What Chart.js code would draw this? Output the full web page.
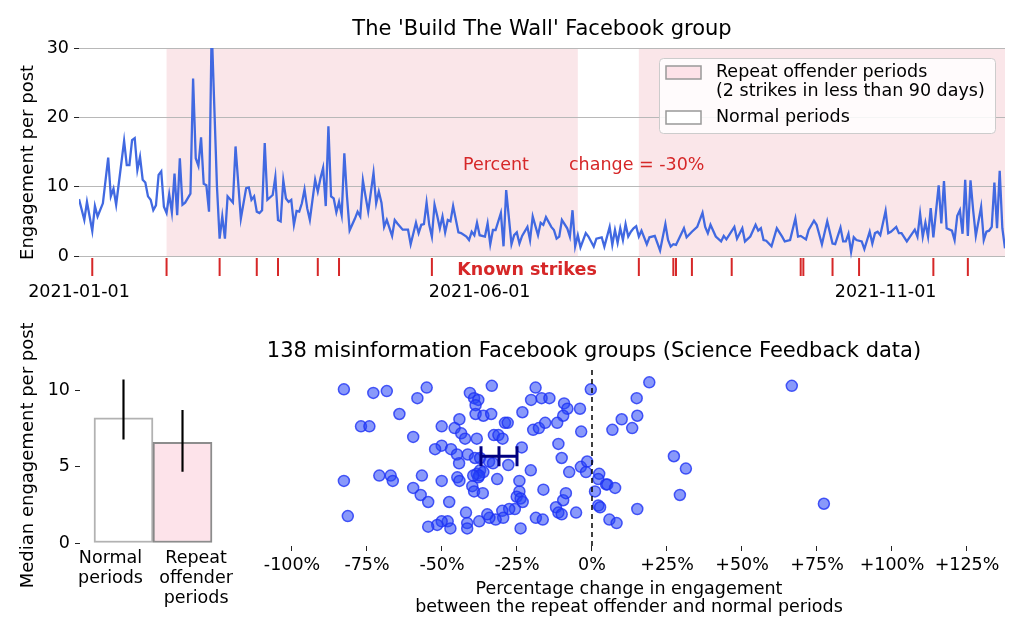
<!DOCTYPE html>
<html>
<head>
<meta charset="utf-8">
<script src="https://cdn.jsdelivr.net/npm/chart.js@4.4.0/dist/chart.umd.min.js"></script>
<style>
  body { margin: 0; background: #fff; }
  #wrap { position: relative; width: 1024px; height: 640px; overflow: hidden; }
  canvas { position: absolute; }
</style>
</head>
<body>
<div id="wrap">
  <canvas id="top" width="1024" height="310" style="left:0;top:0"></canvas>
  <canvas id="bars" width="245" height="330" style="left:0;top:310px"></canvas>
  <canvas id="dots" width="779" height="330" style="left:245px;top:310px"></canvas>
</div>
<script>
// ---- top panel: daily engagement, days counted from 2021-01-01 ----
const days = [
  0,2,3,5,6,7,9,11,12,13,
  14,17,18,19,20,21,22,23,24,25,
  26,27,28,29,30,31,32,33,34,35,
  36,37,38,39,40,42,43,44,45,46,
  47,48,49,50,52,53,54,55,56,58,
  59,61,63,64,65,66,67,68,69,70,
  71,73,74,75,76,77,78,79,80,81,
  82,83,84,85,86,87,89,90,91,92,
  93,94,95,96,97,98,99,100,101,102,
  104,105,106,107,108,109,111,112,113,114,
  115,116,118,119,120,122,124,125,127,128,
  129,130,131,132,133,134,135,136,137,138,
  139,140,141,143,144,146,147,148,149,150,
  151,153,154,155,156,157,159,160,161,163,
  164,165,166,167,169,170,171,173,174,175,
  176,178,179,180,181,182,184,185,186,187,
  188,189,191,192,194,195,197,198,200,201,
  202,203,204,205,206,207,208,209,210,211,
  212,214,215,217,219,221,222,223,224,225,
  228,229,231,233,235,236,237,238,240,242,
  243,244,247,248,250,251,253,255,256,257,
  258,259,261,263,265,266,268,270,271,272,
  274,275,277,278,280,282,284,285,287,288,
  289,290,291,292,293,295,296,298,299,300,
  301,302,304,305,306,308,309,310,312,315,
  316,317,318,319,320,321,322,324,325,326,
  327,329,330,331,332,333,334,335,336,337,
  338,340,341,342,343,344,345,346,347,348,
  349
];
const engagement = [
  8.2,5.2,7.8,3.6,7.2,5.7,7.6,14.2,8.6,9.7,
  7.4,16.6,13.1,13.1,16.7,17.0,12.4,14.3,11.0,10.6,
  8.6,8.1,6.6,7.3,11.7,12.2,7.1,6.2,8.9,6.3,
  11.9,5.9,14.1,7.4,7.7,9.0,25.6,14.1,13.0,17.1,
  10.4,10.2,6.4,33,10.0,2.5,5.7,2.5,8.6,7.7,
  15.8,5.4,9.8,9.9,8.1,8.6,6.4,6.2,6.6,16.3,
  8.1,8.8,11.4,5.2,5.0,10.9,8.3,7.8,8.1,4.5,
  6.5,6.4,7.6,9.6,6.9,5.2,11.0,9.3,11.2,12.7,
  7.2,18.7,8.6,8.3,6.3,7.8,5.9,14.8,8.6,3.7,
  5.4,6.4,5.7,10.9,8.6,6.4,12.0,7.6,9.3,7.7,
  4.2,5.2,2.9,5.2,4.7,3.8,3.8,1.7,4.8,3.3,
  4.5,4.6,7.7,4.5,2.8,7.4,5.8,4.0,5.7,3.4,
  5.2,5.0,7.2,3.4,3.3,2.8,2.3,3.5,3.0,4.8,
  3.0,2.8,4.7,1.7,3.75,3.75,6.2,1.4,9.5,1.7,
  3.0,3.4,1.8,2.9,4.2,2.3,5.7,3.0,4.8,4.5,
  5.6,4.2,3.75,2.5,2.8,5.2,4.0,2.8,6.6,1.4,
  3.0,1.25,3.3,2.8,1.35,2.5,2.7,1.35,4.2,1.6,
  3.75,1.9,4.0,2.3,4.6,2.8,3.5,4.0,4.3,2.8,
  3.65,1.7,2.7,2.9,0.8,4.6,2.3,1.35,1.7,1.6,
  4.0,2.7,3.5,4.2,6.25,4.2,3.3,4.5,2.8,2.1,
  2.9,2.4,4.2,2.5,4.0,2.1,2.8,4.5,3.65,4.0,
  2.3,2.2,1.4,4.0,2.8,2.1,2.3,5.4,2.8,2.9,
  2.4,3.75,5.1,4.5,1.7,5.0,1.8,1.7,4.1,2.1,
  2.1,3.2,0.6,2.7,2.3,2.1,1.0,3.5,1.8,3.3,
  3.5,3.0,6.5,3.3,3.5,4.2,3.3,3.3,2.1,3.8,
  2.8,6.1,2.8,4.8,2.8,6.9,2.7,10.2,4.7,10.8,
  4.0,3.65,2.3,5.8,6.6,3.2,11.0,2.9,10.9,6.6,
  2.9,7.1,2.3,3.5,3.65,4.2,10.6,4.0,12.3,4.0,
  1.1
];
const strikeDays = [5,33,53,67,75,90,98,133,211,224,225,231,246,272,273,284,294,322,335];
const repeatStarts = [33, 211];
const repeatEnds = [188, 349];
const dateTickDays = [0, 151, 304];
const dateTickLabels = ['2021-01-01', '2021-06-01', '2021-11-01'];
const engagementTicks = [0, 10, 20, 30];

// ---- bottom left: medians with error bars ----
const periodPos = [0, 1];
const periodLabels = [['Normal', 'periods'], ['Repeat', 'offender', 'periods']];
const medians = [8.2, 6.6];
const medianLow = [6.8, 4.7];
const medianHigh = [10.7, 8.7];
const medianTicks = [0, 5, 10];

// ---- bottom right: 138 groups ----
const pctChange = [
  -82.7,-72.9,-68.4,-55.1,-58.2,-64.2,-77.0,-74.2,-59.6,-50.1,
  -44.2,-45.8,-43.6,-42.3,-38.4,-40.7,-39.3,-37.9,-38.8,-38.8,
  -36.2,-33.6,-33.4,-50.1,-52.3,-47.0,-45.0,-41.4,-44.3,-39.0,
  -37.3,-34.3,-32.7,-31.2,-29.8,-29.0,-28.1,-23.4,-23.2,-27.9,
  -18.8,-20.3,-16.8,-14.2,-9.3,-8.2,-9.6,-4.0,-0.4,-19.6,
  -17.7,-15.6,-11.6,-3.6,-11.2,-10.1,-20.4,-24.2,-31.6,-38.4,
  -37.3,-36.2,-37.9,-44.9,-44.2,-50.1,-56.7,-67.1,-66.4,-70.9,
  -82.7,-81.4,-59.6,-57.1,-54.6,-47.6,-39.9,-39.3,-36.4,-16.2,
  -7.6,-3.7,-1.6,-2.0,2.4,2.1,4.7,5.1,7.7,1.0,
  2.1,2.7,5.8,8.2,15.1,14.9,15.1,9.9,13.4,6.8,
  19.1,-24.2,-25.1,-23.8,-23.1,-25.7,-27.6,-29.9,-29.6,-32.1,
  -34.2,-34.9,-37.6,-42.0,-41.6,-41.6,-48.1,-47.2,-50.1,-51.6,
  -54.6,-23.8,-18.7,-16.4,-12.0,-11.2,-10.1,-5.3,-9.6,-8.7,
  27.3,31.3,29.3,66.6,77.3,-37.6,-39.6,-33.0
];
const jitter = [
  0.89,0.87,0.88,0.90,0.84,0.75,0.68,0.68,0.62,0.68,
  0.72,0.67,0.64,0.61,0.61,0.87,0.84,0.83,0.80,0.75,
  0.74,0.75,0.91,0.57,0.55,0.55,0.52,0.52,0.47,0.50,
  0.50,0.48,0.63,0.63,0.61,0.70,0.70,0.56,0.76,0.46,
  0.90,0.83,0.84,0.84,0.81,0.78,0.74,0.78,0.89,0.66,
  0.67,0.70,0.70,0.65,0.58,0.50,0.43,0.37,0.38,0.41,
  0.43,0.42,0.39,0.39,0.37,0.37,0.40,0.40,0.37,0.40,
  0.37,0.17,0.33,0.29,0.25,0.25,0.34,0.31,0.30,0.32,
  0.42,0.45,0.48,0.42,0.41,0.38,0.35,0.35,0.33,0.31,
  0.23,0.22,0.15,0.13,0.21,0.84,0.74,0.72,0.67,0.66,
  0.93,0.31,0.28,0.27,0.25,0.21,0.21,0.20,0.16,0.15,
  0.16,0.18,0.14,0.19,0.13,0.10,0.14,0.10,0.14,0.12,
  0.11,0.10,0.16,0.15,0.22,0.19,0.18,0.19,0.26,0.30,
  0.51,0.44,0.29,0.91,0.24,0.40,0.40,0.47
];
const meanChange = -31;
const ciLow = -37;
const ciHigh = -25;
const meanRow = 0.51;
const pctTicks = [-100, -75, -50, -25, 0, 25, 50, 75, 100, 125];
const pctTickLabels = ['-100%', '-75%', '-50%', '-25%', '0%', '+25%', '+50%', '+75%', '+100%', '+125%'];

const FONT = "'DejaVu Sans', sans-serif";
Chart.defaults.font.family = FONT;
Chart.defaults.font.size = 17.5;
Chart.defaults.color = '#000';
Chart.defaults.animation = false;
Chart.defaults.responsive = false;
Chart.defaults.plugins.legend.display = false;
Chart.defaults.plugins.tooltip.enabled = false;

const PINK = 'rgba(240,180,188,0.33)';
const RED = '#d62728';

function setTicks(values) {
  return scale => { scale.ticks = values.map(v => ({ value: v })); };
}

// shaded repeat offender periods, under everything
const shading = {
  id: 'shading',
  beforeDraw(chart) {
    const { ctx } = chart;
    const xs = chart.scales.x, ys = chart.scales.y;
    ctx.save();
    ctx.fillStyle = PINK;
    repeatStarts.forEach((s, i) => {
      const x1 = xs.getPixelForValue(s), x2 = xs.getPixelForValue(repeatEnds[i]);
      const y1 = ys.getPixelForValue(30), y2 = ys.getPixelForValue(0);
      ctx.fillRect(x1, y1, x2 - x1, y2 - y1);
    });
    ctx.restore();
  }
};

const topNotes = {
  id: 'topNotes',
  afterDraw(chart) {
    const { ctx, chartArea } = chart;
    ctx.save();
    ctx.textBaseline = 'middle';
    ctx.fillStyle = '#000';
    ctx.textAlign = 'center';
    ctx.font = '21px ' + FONT;
    ctx.fillText("The 'Build The Wall' Facebook group", (chartArea.left + chartArea.right) / 2, 30);

    ctx.fillStyle = RED;
    ctx.font = '17.5px ' + FONT;
    ctx.textAlign = 'left';
    ctx.fillText('Percent', 463, 165);
    ctx.fillText('change = -30%', 569, 165);
    ctx.font = 'bold 17.5px ' + FONT;
    ctx.textAlign = 'center';
    ctx.fillText('Known strikes', 527, 270);

    // legend
    ctx.fillStyle = 'rgba(255,255,255,0.85)';
    ctx.strokeStyle = '#cccccc';
    ctx.lineWidth = 1;
    ctx.beginPath();
    ctx.roundRect(659.5, 58.5, 336, 75, 4);
    ctx.fill();
    ctx.stroke();
    ctx.lineWidth = 1.5;
    ctx.strokeStyle = '#999999';
    ctx.fillStyle = '#fde2e8';
    ctx.fillRect(666, 66, 35, 13);
    ctx.strokeRect(666, 66, 35, 13);
    ctx.fillStyle = '#ffffff';
    ctx.fillRect(666, 111, 35, 13);
    ctx.strokeRect(666, 111, 35, 13);
    ctx.fillStyle = '#000';
    ctx.font = '17.5px ' + FONT;
    ctx.textAlign = 'left';
    ctx.fillText('Repeat offender periods', 716, 72);
    ctx.fillText('(2 strikes in less than 90 days)', 716, 91);
    ctx.fillText('Normal periods', 716, 117);
    ctx.restore();
  }
};

new Chart(document.getElementById('top'), {
  type: 'line',
  data: {
    datasets: [
      {
        data: days.map((d, i) => ({ x: d, y: engagement[i] })),
        borderColor: '#4169e1',
        borderWidth: 2.3,
        pointRadius: 0,
        tension: 0,
        order: 1
      },
      {
        type: 'scatter',
        data: strikeDays.map(d => ({ x: d, y: -1.6 })),
        pointStyle: 'line',
        pointRotation: 90,
        pointRadius: 9,
        pointBorderColor: RED,
        pointBorderWidth: 2,
        order: 0
      }
    ]
  },
  options: {
    devicePixelRatio: 1,
    layout: { padding: { left: 0, right: 19, top: 48, bottom: 0 } },
    scales: {
      x: {
        type: 'linear', min: 0, max: 349,
        afterBuildTicks: setTicks(dateTickDays),
        afterFit: s => { s.height = 33.2; },
        ticks: { callback: (v, i) => dateTickLabels[i], padding: 5, maxRotation: 0, autoSkip: false },
        grid: { display: false, drawTicks: false },
        border: { display: false }
      },
      y: {
        min: -3, max: 30,
        afterBuildTicks: setTicks(engagementTicks),
        afterFit: s => { s.width = 79; },
        ticks: { padding: 5 },
        grid: { color: '#b8b8b8', tickColor: '#222', tickLength: 5, lineWidth: 1 },
        border: { display: false },
        title: { display: true, text: 'Engagement per post', padding: { top: 18 }, font: { size: 18 } }
      }
    }
  },
  plugins: [shading, topNotes]
});

// the two category labels sit a little outward from the bar centres
const labelShift = [-0.22, 0.23];

new Chart(document.getElementById('bars'), {
  type: 'bar',
  data: {
    datasets: [
      {
        data: periodPos.map((p, i) => ({ x: p, y: [medianLow[i], medianHigh[i]] })),
        backgroundColor: '#000',
        barThickness: 1.5,
        grouped: false,
        order: 0
      },
      {
        data: periodPos.map((p, i) => ({ x: p, y: medians[i] })),
        backgroundColor: ['#ffffff', '#fde3ea'],
        borderColor: ['rgba(0,0,0,0.3)', 'rgba(0,0,0,0.45)'],
        borderWidth: 2,
        borderSkipped: false,
        barThickness: 59,
        grouped: false,
        order: 1
      }
    ]
  },
  options: {
    devicePixelRatio: 1,
    layout: { padding: { left: 0, right: 19, top: 57.6, bottom: 0 } },
    scales: {
      x: {
        type: 'linear', min: -0.737, max: 1.737, offset: false,
        afterBuildTicks: s => { s.ticks = periodPos.map((p, i) => ({ value: p + labelShift[i] })); },
        afterFit: s => { s.height = 97; },
        grid: { display: false, drawTicks: false },
        border: { display: false },
        ticks: { callback: (v, i) => periodLabels[i], padding: 6, maxRotation: 0, autoSkip: false, font: { lineHeight: 1.12 } }
      },
      y: {
        min: 0, max: 11.5,
        afterBuildTicks: setTicks(medianTicks),
        afterFit: s => { s.width = 80; },
        ticks: { padding: 5 },
        grid: { drawOnChartArea: false, tickColor: '#222', tickLength: 5 },
        border: { display: false },
        title: { display: true, text: 'Median engagement per post', padding: { top: 18 }, font: { size: 18 } }
      }
    }
  }
});

const dotNotes = {
  id: 'dotNotes',
  afterDraw(chart) {
    const { ctx, chartArea } = chart;
    const mid = (chartArea.left + chartArea.right) / 2;
    ctx.save();
    ctx.fillStyle = '#000';
    ctx.textAlign = 'center';
    ctx.textBaseline = 'middle';
    ctx.font = '21px ' + FONT;
    ctx.fillText('138 misinformation Facebook groups (Science Feedback data)', 349, 42);
    ctx.font = '17.5px ' + FONT;
    ctx.fillText('Percentage change in engagement', mid, 279);
    ctx.fillText('between the repeat offender and normal periods', mid, 297);
    ctx.restore();
  }
};

new Chart(document.getElementById('dots'), {
  type: 'scatter',
  data: {
    datasets: [
      {
        data: pctChange.map((p, i) => ({ x: p, y: jitter[i] })),
        pointRadius: 5.5,
        pointBackgroundColor: 'rgba(40,70,245,0.55)',
        pointBorderColor: 'rgba(30,50,245,0.8)',
        pointBorderWidth: 1.5,
        order: 2
      },
      {
        type: 'line',
        data: [{ x: 0, y: 0 }, { x: 0, y: 1 }],
        borderColor: '#000',
        borderWidth: 1.5,
        borderDash: [5, 4],
        pointRadius: 0,
        order: 1
      },
      {
        type: 'line',
        data: [ciLow, meanChange, ciHigh].map(v => ({ x: v, y: meanRow })),
        borderColor: '#000080',
        borderWidth: 3,
        pointStyle: 'line',
        pointRotation: 90,
        pointRadius: 10,
        pointBorderColor: '#000080',
        pointBorderWidth: 3,
        order: 0
      }
    ]
  },
  options: {
    devicePixelRatio: 1,
    layout: { padding: { left: 17, right: 28, top: 60, bottom: 0 } },
    scales: {
      x: {
        type: 'linear', min: -110, max: 134.67,
        afterBuildTicks: setTicks(pctTicks),
        afterFit: s => { s.height = 94; },
        ticks: { callback: (v, i) => pctTickLabels[i], padding: 4, maxRotation: 0, autoSkip: false },
        grid: { drawOnChartArea: false, tickColor: '#222', tickLength: 5 },
        border: { display: false }
      },
      y: { display: false, min: 0, max: 1 }
    }
  },
  plugins: [dotNotes]
});
</script>
</body>
</html>
